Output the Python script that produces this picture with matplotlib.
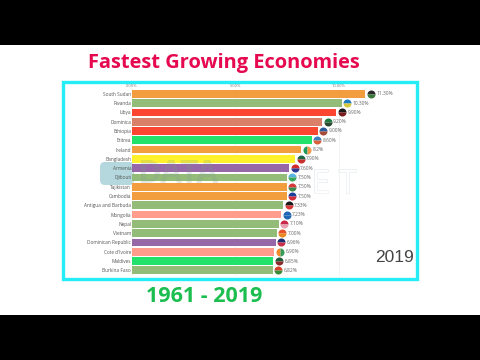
import matplotlib
matplotlib.use('Agg')
import matplotlib.pyplot as plt
import matplotlib.patheffects as pe
from matplotlib.patches import Rectangle, FancyBboxPatch

# data
countries = ['South Sudan', 'Rwanda', 'Libya', 'Dominica', 'Ethiopia', 'Eritrea', 'Ireland',
             'Bangladesh', 'Armenia', 'Djibouti', 'Tajikistan', 'Cambodia', 'Antigua and Barbuda',
             'Mongolia', 'Nepal', 'Vietnam', 'Dominican Republic', "Cote d'Ivoire", 'Maldives',
             'Burkina Faso']
growth = [11.30, 10.15, 9.90, 9.20, 9.00, 8.70, 8.20, 7.90, 7.60, 7.50, 7.50, 7.50, 7.33, 7.23,
          7.10, 7.00, 6.96, 6.90, 6.85, 6.82]
growth_labels = ['11.30%', '10.30%', '9.90%', '9.20%', '9.00%', '8.60%', '8.2%', '7.90%', '7.60%',
                 '7.50%', '7.50%', '7.50%', '7.33%', '7.23%', '7.10%', '7.00%', '6.96%', '6.90%',
                 '6.85%', '6.82%']
ticks = [0, 5, 10]
tick_labels = ['0.00%', '5.00%', '10.00%']

orange = '#F29E3E'
green = '#94BC79'
red = '#FB4632'
salmon = '#DA8069'
bright = '#22E26B'
yellow = '#FFF12C'
purple = '#9668A7'
pink = '#FF9C8B'
bar_colors = [orange, green, red, salmon, red, bright, orange, yellow, purple, green, orange,
              orange, green, pink, green, green, purple, pink, bright, green]
flag_top = ['#2A2A2A', '#1E7FC0', '#1A1A1A', '#1F7A40', '#2B5C9A', '#3E7FC0', '#1F9A5A', '#1F6B45',
            '#D42B2B', '#5AB4E0', '#D63A3A', '#1B3F9A', '#1A1A1A', '#1F68B5', '#C8264A', '#E8502A',
            '#1B2F70', '#F28A28', '#1F5C38', '#D8402A']
flag_bottom = ['#3C7A3C', '#D8C83A', '#7A1A1A', '#2A4A30', '#A84A3A', '#D8603A', '#F29A4A', '#C9302C',
               '#2A3A90', '#3AA85A', '#3A8A4A', '#D42B3A', '#D83A3A', '#1F68B5', '#E8A0B0', '#E88A20',
               '#C8304A', '#3A9A5A', '#8A2A2A', '#3A8A3A']
split_sideways = ['Ireland', "Cote d'Ivoire"]

fig = plt.figure(figsize=(4.8, 3.6), dpi=100)
plt.rcParams['font.family'] = ['Open Sans', 'DejaVu Sans']

# page furniture in pixel coordinates
bg = fig.add_axes([0, 0, 1, 1], zorder=0)
bg.set_xlim(0, 480)
bg.set_ylim(360, 0)
bg.axis('off')
bg.add_patch(Rectangle((0, 0), 480, 45, color='black', lw=0))
bg.add_patch(Rectangle((0, 315), 480, 45, color='black', lw=0))
bg.add_patch(Rectangle((62.5, 81.5), 354, 197, fill=False, ec='#25EDF6', lw=2.4))
bg.add_patch(FancyBboxPatch((104, 166), 26, 15, boxstyle='round,pad=4,rounding_size=5',
                            fc='#B4D8DD', ec='none'))
bg.text(223.5, 63, 'Fastest Growing Economies', color='#E6094F', fontsize=14.4,
        fontweight='bold', ha='center', va='center')
bg.text(204.5, 296, '1961 - 2019', color='#1CBE50', fontsize=15.5, fontweight='bold',
        ha='center', va='center')
# the NET part of the watermark stays behind the bars and labels
net = bg.text(357, 185, 'N E T', fontsize=24, color='white', ha='right', va='center')
net.set_path_effects([pe.withStroke(linewidth=0.6, foreground='#DDE5E9')])

# bars, zero sits at x=132 and one percent is about 20.65 px
px = 20.65
ax = fig.add_axes([132 / 480, 1 - 276 / 360, (414 - 132) / 480, (276 - 88.5) / 360], zorder=1)
ax.patch.set_alpha(0)
ax.set_xlim(0, (414 - 132) / px)
ax.set_ylim(19.61, -0.57)
ax.barh(range(len(countries)), growth, height=0.83, color=bar_colors, zorder=2)
ax.set_yticks(range(len(countries)))
ax.set_yticklabels(countries, fontsize=3.4, color='#555555')
ax.set_xticks(ticks)
ax.set_xticklabels(tick_labels, fontsize=2.9, color='#777777')
ax.xaxis.tick_top()
ax.tick_params(length=0, pad=0.6)
ax.grid(axis='x', color='#EEEEEE', lw=0.5, zorder=0)
ax.set_axisbelow(True)
for s in ax.spines.values():
    s.set_visible(False)

for i, v in enumerate(growth):
    fill = 'left' if countries[i] in split_sideways else 'top'
    ax.plot(v + 0.27, i, marker='o', ms=5.8, mew=0, fillstyle=fill, mfc=flag_top[i],
            mfcalt=flag_bottom[i], zorder=3, clip_on=False)
    ax.text(v + 0.53, i, growth_labels[i], fontsize=3.5, color='#666666', va='center', zorder=3)

# year and the DATA part of the watermark
fig.text(414 / 480, 1 - 257.5 / 360, '2019', fontsize=12.5, color='#444444', ha='right',
         va='center', family='Liberation Sans', zorder=4)
fig.text(137 / 480, 1 - 174 / 360, 'DATA', fontsize=23, fontweight='bold', color='#7F9A90',
         alpha=0.22, va='center', zorder=5)

fig.savefig('out.png', dpi=100)
